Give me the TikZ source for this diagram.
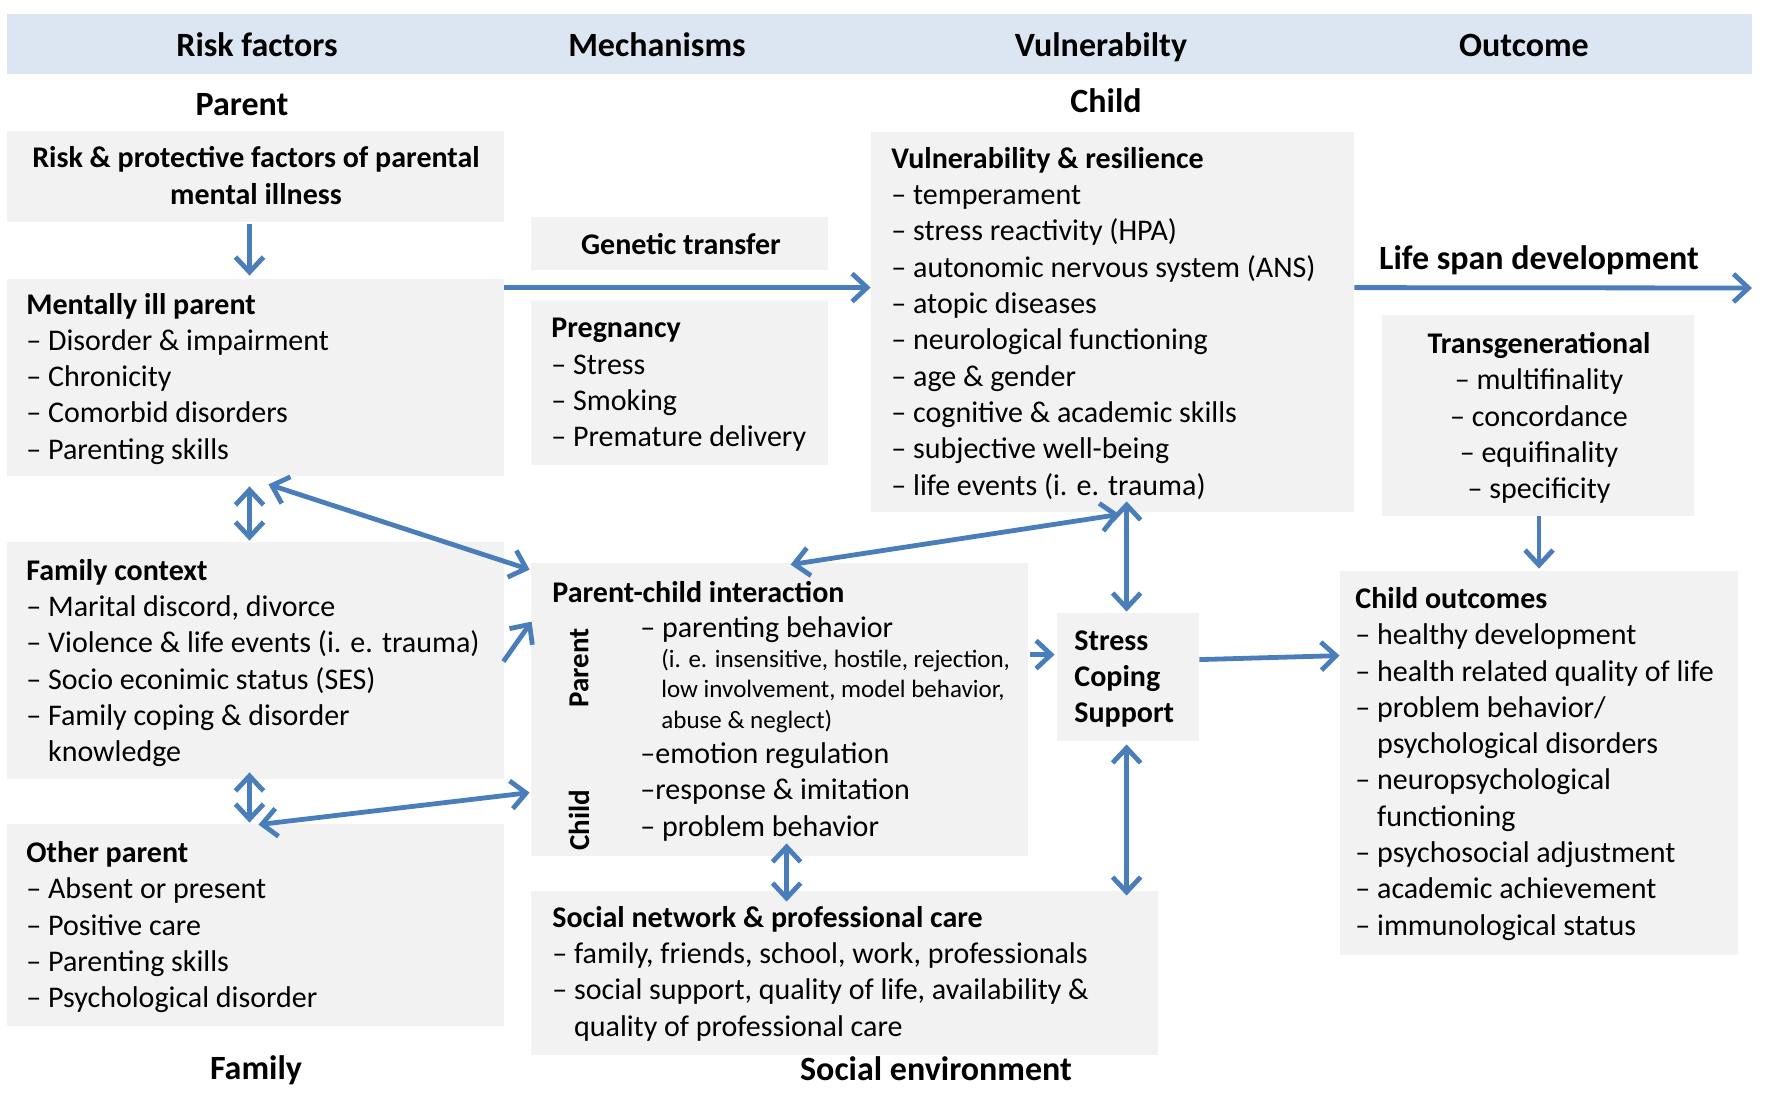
\documentclass[tikz,border=0pt]{standalone}
\usepackage{fontspec}
\setmainfont{Carlito}
\usetikzlibrary{arrows.meta,fit}
\definecolor{boxgray}{RGB}{242,242,242}
\definecolor{bandblue}{RGB}{220,230,242}
\definecolor{linkblue}{RGB}{74,126,187}
\tikzset{
  box/.style={fill=boxgray, inner sep=0pt},
  band/.style={fill=bandblue, inner sep=0pt},
  hdr/.style={font=\fontsize{17}{20}\selectfont\bfseries, anchor=base, inner sep=0pt},
  txt/.style={font=\fontsize{15}{18.15}\selectfont, align=left, anchor=north west, inner sep=0pt, execute at begin node=\strut},
  subtxt/.style={txt, font=\fontsize{12.5}{15.25}\selectfont},
  side/.style={font=\fontsize{14.5}{17}\selectfont\bfseries, rotate=90, inner sep=0pt},
  barb/.tip={Straight Barb[length=7.5pt,width=14pt]},
  link/.style={draw=linkblue, line width=2.4pt, -barb},
  twoway/.style={link, barb-barb},
}
\begin{document}
\begin{tikzpicture}[x=0.5pt, y=-0.5pt]
	\useasboundingbox (0,0) rectangle (1772,1096);
	
	% column heads
	\node[band, fit={(7,14) (1752,74)}] (band) {};
	\foreach \x/\lbl in {257/Risk factors, 657/Mechanisms, 1101/Vulnerabilty, 1524/Outcome}
	{	\node[hdr] (head\x) at (\x,57) {\lbl};
	}
	\node[hdr] (parent)   at (242,116)  {Parent};
	\node[hdr] (child)    at (1106,113) {Child};
	\node[hdr] (family)   at (256,1079) {Family};
	\node[hdr] (socenv)   at (936,1080) {Social environment};
	\node[hdr] (lifespan) at (1539,270) {Life span development};
	\coordinate (lsend) at (1752,288);
	
	% boxes
	\node[box, fit={(7,131) (504,222)}]     (risk) {};
	\node[box, fit={(7,279) (504,476)}]     (mip)  {};
	\node[box, fit={(7,542) (504,779)}]     (fam)  {};
	\node[box, fit={(7,824) (504,1026)}]    (oth)  {};
	\node[box, fit={(531,217) (828,270)}]   (gen)  {};
	\node[box, fit={(531,301) (828,465)}]   (preg) {};
	\node[box, fit={(531,563) (1028,856)}]  (pci)  {};
	\node[box, fit={(531,891) (1158,1055)}] (soc)  {};
	\node[box, fit={(871,132) (1354,512)}]  (vul)  {};
	\node[box, fit={(1057,613) (1199,741)}] (str)  {};
	\node[box, fit={(1382,315) (1694,516)}] (tra)  {};
	\node[box, fit={(1340,571) (1738,955)}] (out)  {};
	
	% box texts
	\node[txt, align=center, anchor=north] (riskt) at (256,146.4) {\textbf{Risk \& protective factors of parental}\\ \textbf{mental illness}};
	\node[txt] (mipt) at (26,292.6) {\textbf{Mentally ill parent}\\ -- Disorder \& impairment\\ -- Chronicity\\ -- Comorbid disorders\\ -- Parenting skills};
	\node[txt] (famt) at (26,558.9) {\textbf{Family context}\\ -- Marital discord, divorce\\ -- Violence \& life events (i. e. trauma)\\ -- Socio econimic status (SES)\\ -- Family coping \& disorder\\ \phantom{-- }knowledge};
	\node[txt] (otht) at (26,841) {\textbf{Other parent}\\ -- Absent or present\\ -- Positive care\\ -- Parenting skills\\ -- Psychological disorder};
	\node[txt, anchor=north] (gent) at (681,228.5) {\textbf{Genetic transfer}};
	\node[txt] (pregt) at (551,318.1) {\textbf{Pregnancy}\\ -- Stress\\ -- Smoking\\ -- Premature delivery};
	\node[txt] (pcit) at (552,576.3) {\textbf{Parent-child interaction}};
	\node[txt] (pcip) at (640,611.6) {-- parenting behavior};
	\node[subtxt] (pcis) at (661,648.6) {(i. e. insensitive, hostile, rejection,\\ low involvement, model behavior,\\ abuse \& neglect)};
	\node[txt] (pcic) at (640,742.4) {--emotion regulation\\ --response \& imitation\\ -- problem behavior};
	\node[side] (pcirp) at (579,668) {Parent};
	\node[side] (pcirc) at (579,820) {Child};
	\node[txt] (soct) at (552,905.7) {\textbf{Social network \& professional care}\\ -- family, friends, school, work, professionals\\ -- social support, quality of life, availability \&\\ \phantom{-- }quality of professional care};
	\node[txt] (vult) at (891,146.9) {\textbf{Vulnerability \& resilience}\\ -- temperament\\ -- stress reactivity (HPA)\\ -- autonomic nervous system (ANS)\\ -- atopic diseases\\ -- neurological functioning\\ -- age \& gender\\ -- cognitive \& academic skills\\ -- subjective well-being\\ -- life events (i. e. trauma)};
	\node[txt] (strt) at (1074,630) {\textbf{Stress}\\ \textbf{Coping}\\ \textbf{Support}};
	\node[txt, align=center, anchor=north] (trat) at (1539,332.1) {\textbf{Transgenerational}\\ -- multifinality\\ -- concordance\\ -- equifinality\\ -- specificity};
	\node[txt] (outt) at (1355,587) {\textbf{Child outcomes}\\ -- healthy development\\ -- health related quality of life\\ -- problem behavior/\\ \phantom{-- }psychological disorders\\ -- neuropsychological\\ \phantom{-- }functioning\\ -- psychosocial adjustment\\ -- academic achievement\\ -- immunological status};
	
	\def\single {risk.south/-6/2/mip.north/-6/-3, fam.east/-1/1/pci.north west/1/59, mip.north east/0/9/vul.north west/0/156, pci.north east/2/92/str.north west/-2/42, str.north east/0/47/out.north west/0/85, vul.north east/0/156/lsend/0/0, tra.south/1/0/out.north/0/-2}  % one head
	\foreach \u/\ux/\uy/\v/\vx/\vy in \single
	{	\draw[link] ([shift={(\ux,\uy)}]\u) -- ([shift={(\vx,\vy)}]\v);
	}
	\def\double {mip.south/-6/10/fam.north/-6/-1, mip.south/13/8/pci.north west/-1/7, fam.south/-6/-7/oth.north/-6/-1, oth.north/3/1/pci.north west/-1/230, pci.north west/260/2/vul.south west/249/2, vul.south west/256/-11/str.north west/70/-1, str.south west/70/3/soc.north west/596/5, pci.south west/256/-13/soc.north west/256/11}  % heads at both ends
	\foreach \u/\ux/\uy/\v/\vx/\vy in \double
	{	\draw[twoway] ([shift={(\ux,\uy)}]\u) -- ([shift={(\vx,\vy)}]\v);
	}
\end{tikzpicture}
\end{document}
